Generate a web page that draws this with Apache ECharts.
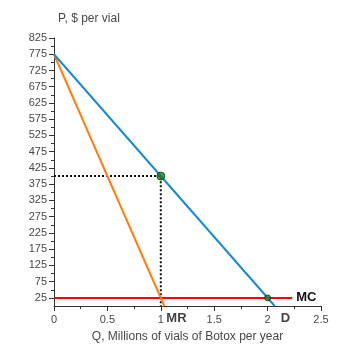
<!DOCTYPE html>
<html>
<head>
<meta charset="utf-8">
<script src="https://cdn.jsdelivr.net/npm/echarts@6/dist/echarts.min.js"></script>
<style>
  html, body { margin: 0; padding: 0; background: #fff; }
  #chart { width: 345px; height: 348px; }
</style>
</head>
<body>
<div id="chart"></div>
<script>
// Botox monopoly: demand, marginal revenue and marginal cost
const yTickLabels = [25, 75, 125, 175, 225, 275, 325, 375, 425, 475, 525, 575, 625, 675, 725, 775, 825];
const yMinorTicks = [50, 100, 150, 200, 250, 300, 350, 400, 450, 500, 550, 600, 650, 700, 750, 800];
const xTickLabels = [0, 0.5, 1, 1.5, 2, 2.5];

const demandQ = [0, 2.067];
const demandP = [775, 0];
const mrQ = [0, 1.033];
const mrP = [775, 0];
const mcQ = [0, 2.23];
const mcP = [25, 25];

const monopolyQ = 1;
const monopolyP = 400;
const competitiveQ = 2;
const competitiveP = 25;

const zip = (a, b) => a.map((v, i) => [v, b[i]]);

const font = 'Liberation Sans, Arial, sans-serif';
const labelColor = '#484848';

const chart = echarts.init(document.getElementById('chart'), null, { renderer: 'canvas' });

const curveTag = (text, dx) => ({
  show: true,
  formatter: text,
  position: 'bottom',
  align: 'left',
  offset: [dx, 1],
  color: '#111',
  fontWeight: 'bold',
  fontSize: 13,
  fontFamily: font
});

chart.setOption({
  animation: false,
  grid: { left: 54, right: 24, top: 38, bottom: 42, containLabel: false },
  xAxis: {
    type: 'value',
    min: 0, max: 2.5, interval: 0.5,
    name: 'Q, Millions of vials of Botox per year',
    nameLocation: 'middle',
    nameGap: 25,
    nameTextStyle: { color: labelColor, fontSize: 12, fontFamily: font },
    axisLine: { onZero: false, lineStyle: { color: '#333', width: 1 } },
    axisTick: { show: true, length: 5, lineStyle: { color: '#333' }, customValues: xTickLabels },
    minorTick: { show: true, splitNumber: 2, length: 3, lineStyle: { color: '#333' } },
    axisLabel: { color: labelColor, fontSize: 11, fontFamily: font, margin: 8, customValues: xTickLabels },
    splitLine: { show: false }
  },
  yAxis: [{
    type: 'value',
    min: 0, max: 825,
    name: 'P, $ per vial',
    nameLocation: 'end',
    nameGap: 13,
    nameTextStyle: { color: labelColor, fontSize: 12, fontFamily: font, align: 'left', padding: [0, 0, 0, 4] },
    axisLine: { show: true, lineStyle: { color: '#333', width: 1 } },
    axisTick: { show: true, length: 5, lineStyle: { color: '#333' }, customValues: yTickLabels },
    axisLabel: { color: labelColor, fontSize: 11, fontFamily: font, margin: 7, customValues: yTickLabels },
    splitLine: { show: false }
  }, {
    type: 'value',
    min: 0, max: 825,
    position: 'left',
    axisLine: { show: false },
    axisTick: { show: true, length: 3, lineStyle: { color: '#333' }, customValues: yMinorTicks },
    axisLabel: { show: false },
    splitLine: { show: false }
  }],
  series: [
    {
      name: 'Price guide',
      type: 'line',
      data: [[0, monopolyP], [monopolyQ, monopolyP], [monopolyQ, 0]],
      symbol: 'none',
      lineStyle: { color: '#111', width: 2, type: [2, 2] },
      z: 1
    },
    {
      name: 'MC',
      type: 'line',
      data: zip(mcQ, mcP),
      symbol: 'none',
      lineStyle: { color: '#ff0000', width: 2 },
      endLabel: { show: true, formatter: 'MC', color: '#111', fontWeight: 'bold', fontSize: 13, fontFamily: font, distance: 4 },
      z: 2
    },
    {
      name: 'MR',
      type: 'line',
      data: zip(mrQ, mrP),
      symbol: 'none',
      lineStyle: { color: '#ff7f0e', width: 2 },
      z: 3
    },
    {
      name: 'D',
      type: 'line',
      data: zip(demandQ, demandP),
      symbol: 'none',
      lineStyle: { color: '#1a8ad4', width: 2 },
      z: 3
    },
    {
      name: 'Curve tags',
      type: 'scatter',
      symbolSize: 0,
      data: [
        { value: [mrQ[1], 0], label: curveTag('MR', 2) },
        { value: [demandQ[1], 0], label: curveTag('D', 6) }
      ],
      z: 5
    },
    {
      name: 'Equilibria',
      type: 'scatter',
      data: [
        { value: [monopolyQ, monopolyP], symbolSize: 8 },
        { value: [competitiveQ, competitiveP], symbolSize: 6 }
      ],
      itemStyle: { color: '#1e7d1e', borderColor: '#0b3b0b', borderWidth: 1 },
      z: 6
    }
  ]
});
</script>
</body>
</html>
